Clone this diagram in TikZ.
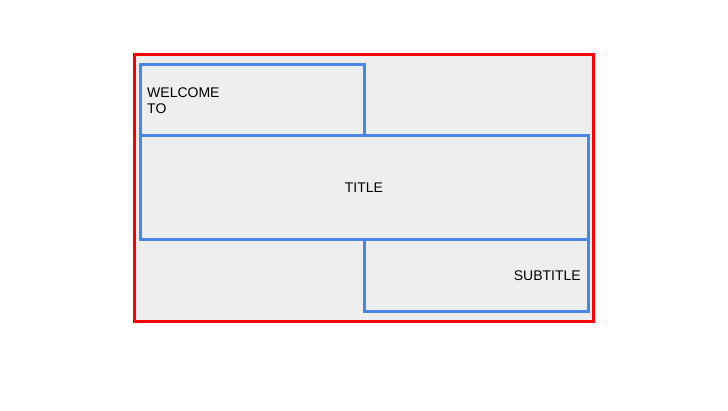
\documentclass[tikz,border=0pt]{standalone}
\usepackage{fontspec}
\setmainfont{Liberation Sans}
\definecolor{frame}{HTML}{FF0000}
\definecolor{boxblue}{HTML}{4A86E8}
\definecolor{bg}{HTML}{EEEEEE}
\begin{document}
\begin{tikzpicture}[x=1pt,y=-1pt,
  outer/.style={draw=frame,fill=bg,line width=3pt,inner sep=0pt,outer sep=0pt},
  bluebox/.style={draw=boxblue,line width=3pt,inner sep=0pt,outer sep=0pt},
  lbl/.style={inner sep=0pt,font=\fontsize{14}{16}\selectfont,text=black}]
\useasboundingbox (0,0) rectangle (728,410);
\node[outer,minimum width=459pt,minimum height=267pt] (frame) at (363.5,187.5) {};
\node[bluebox,minimum width=224pt,minimum height=71pt] (welcomebox) at (252,99.5) {};
\node[bluebox,minimum width=224pt,minimum height=72pt] (subbox) at (476,275) {};
\node[bluebox,minimum width=448pt,minimum height=104pt] (titlebox) at (364,187) {};
\node[lbl,align=left,anchor=west] (welcome) at (147,100.5) {WELCOME\\TO};
\node[lbl] (title) at (364,187.5) {TITLE};
\node[lbl,anchor=east] (subtitle) at (581,275.5) {SUBTITLE};
\end{tikzpicture}
\end{document}
